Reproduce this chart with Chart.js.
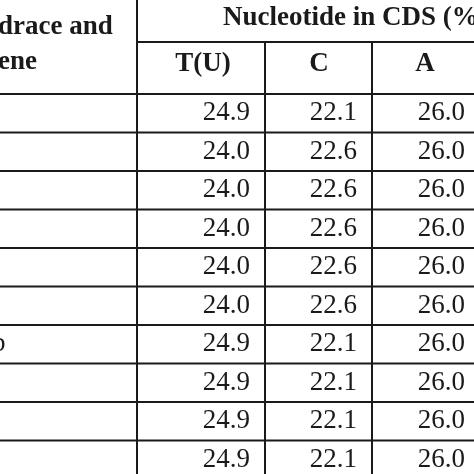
<!DOCTYPE html>
<html>
<head>
<meta charset="utf-8">
<script src="https://cdn.jsdelivr.net/npm/chart.js@4"></script>
<style>
  html, body { margin: 0; padding: 0; background: #fff; }
  #wrap { width: 474px; height: 474px; }
</style>
</head>
<body>
<div id="wrap"><canvas id="table"></canvas></div>
<script>
// Table content
const columns = ['T(U)', 'C', 'A'];
const rowLabels = ['', '', '', '', '', '', 'b', '', '', ''];
const colT = [24.9, 24.0, 24.0, 24.0, 24.0, 24.0, 24.9, 24.9, 24.9, 24.9];
const colC = [22.1, 22.6, 22.6, 22.6, 22.6, 22.6, 22.1, 22.1, 22.1, 22.1];
const colA = [26.0, 26.0, 26.0, 26.0, 26.0, 26.0, 26.0, 26.0, 26.0, 26.0];
const groupTitle = 'Nucleotide in CDS (%)';
const stubTitle = ['drace and', 'ene'];

// Layout in scale units (0..474 both ways)
const colEdges = [137, 265, 372, 480];
const headerLine = 42;
const bodyTop = 94;
const rowH = 38.5;

const ink = '#1a1a1a';
const values = [colT, colC, colA];

const tablePlugin = {
  id: 'tablePlugin',
  afterDraw(chart) {
    const { ctx, scales: { x, y } } = chart;
    const px = v => x.getPixelForValue(v);
    const py = v => y.getPixelForValue(v);
    ctx.save();
    ctx.strokeStyle = ink;
    ctx.lineWidth = 2;
    const line = (x1, y1, x2, y2) => {
      ctx.beginPath();
      ctx.moveTo(px(x1), py(y1));
      ctx.lineTo(px(x2), py(y2));
      ctx.stroke();
    };
    // horizontal rules
    line(colEdges[0], headerLine, 474, headerLine);
    for (let i = 0; i <= rowLabels.length; i++) {
      line(0, bodyTop + i * rowH, 474, bodyTop + i * rowH);
    }
    // vertical rules
    line(colEdges[0], 0, colEdges[0], 474);
    line(colEdges[1], headerLine, colEdges[1], 474);
    line(colEdges[2], headerLine, colEdges[2], 474);

    ctx.fillStyle = ink;
    ctx.textBaseline = 'middle';
    // header texts
    ctx.font = 'bold 27px "Liberation Serif", serif';
    ctx.textAlign = 'left';
    ctx.fillText(groupTitle, px(223), py(18));
    ctx.fillText(stubTitle[0], px(-2), py(27));
    ctx.fillText(stubTitle[1], px(-2), py(62));
    ctx.textAlign = 'center';
    const headCenters = [203, 319, 425];
    columns.forEach((c, j) => {
      ctx.fillText(c, px(headCenters[j]), py(64));
    });
    // body
    ctx.font = '27px "Liberation Serif", serif';
    rowLabels.forEach((lab, i) => {
      const cy = bodyTop + (i + 0.5) * rowH;
      if (lab) {
        ctx.textAlign = 'left';
        ctx.fillText(lab, px(-8), py(cy));
      }
      ctx.textAlign = 'right';
      values.forEach((col, j) => {
        ctx.fillText(col[i].toFixed(1), px(colEdges[j + 1] - 15), py(cy));
      });
    });
    ctx.restore();
  }
};

new Chart(document.getElementById('table'), {
  type: 'scatter',
  data: { datasets: [{ data: [], pointRadius: 0 }] },
  options: {
    responsive: true,
    maintainAspectRatio: false,
    animation: false,
    layout: { padding: 0 },
    plugins: { legend: { display: false }, tooltip: { enabled: false } },
    scales: {
      x: { type: 'linear', min: 0, max: 474, display: false },
      y: { type: 'linear', min: 0, max: 474, reverse: true, display: false }
    }
  },
  plugins: [tablePlugin]
});
</script>
</body>
</html>
